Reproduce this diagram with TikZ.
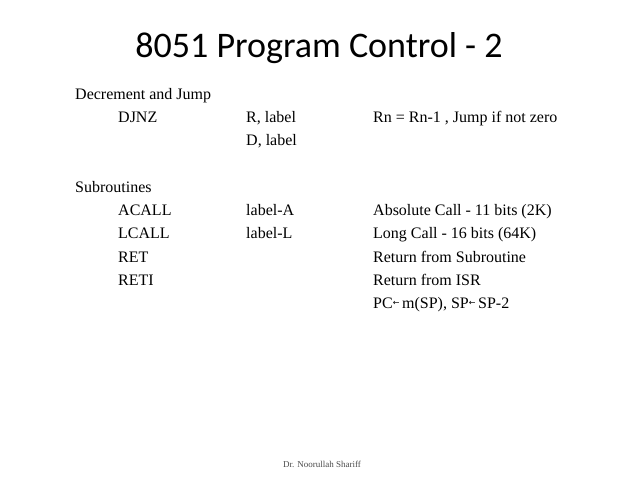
\documentclass[tikz,border=0pt]{standalone}
\usepackage{fontspec}
\setmainfont{Liberation Serif}
\newfontfamily\titlefont{Carlito}
\newfontfamily\symfont{DejaVu Sans}
\begin{document}
\begin{tikzpicture}[x=1pt,y=-1pt,
  txt/.style={anchor=base west,inner sep=0pt,font=\fontsize{16}{18}\selectfont},
  ttl/.style={anchor=base,inner sep=0pt,font=\titlefont\fontsize{36}{40}\selectfont},
  foot/.style={anchor=base,inner sep=0pt,font=\fontsize{9}{10}\selectfont,text=black!70}]
\useasboundingbox[fill=white] (0,0) rectangle (638,478);
\node[ttl] (title) at (319,58) {8051 Program Control - 2};
\node[txt] (h1) at (75,100) {Decrement and Jump};
\node[txt] (d1) at (118,123) {DJNZ};
\node[txt] (d2) at (246,123) {R, label};
\node[txt] (d3) at (373,123) {Rn = Rn-1 , Jump if not zero};
\node[txt] (d4) at (246,146) {D, label};
\node[txt] (h2) at (75,193) {Subroutines};
\node[txt] (a1) at (118,216) {ACALL};
\node[txt] (a2) at (246,216) {label-A};
\node[txt] (a3) at (373,216) {Absolute Call - 11 bits (2K)};
\node[txt] (l1) at (118,239) {LCALL};
\node[txt] (l2) at (246,239) {label-L};
\node[txt] (l3) at (373,239) {Long Call - 16 bits (64K)};
\node[txt] (r1) at (118,263) {RET};
\node[txt] (r3) at (373,263) {Return from Subroutine};
\node[txt] (t1) at (118,286) {RETI};
\node[txt] (t3) at (373,286) {Return from ISR};
\node[txt] (p3) at (373,309) {PC\raisebox{3pt}{\symfont\fontsize{8}{8}\selectfont←}\,m(SP), SP\raisebox{3pt}{\symfont\fontsize{8}{8}\selectfont←}\,SP-2};
\node[foot] (ft) at (322,468) {Dr. Noorullah Shariff};
\end{tikzpicture}
\end{document}
